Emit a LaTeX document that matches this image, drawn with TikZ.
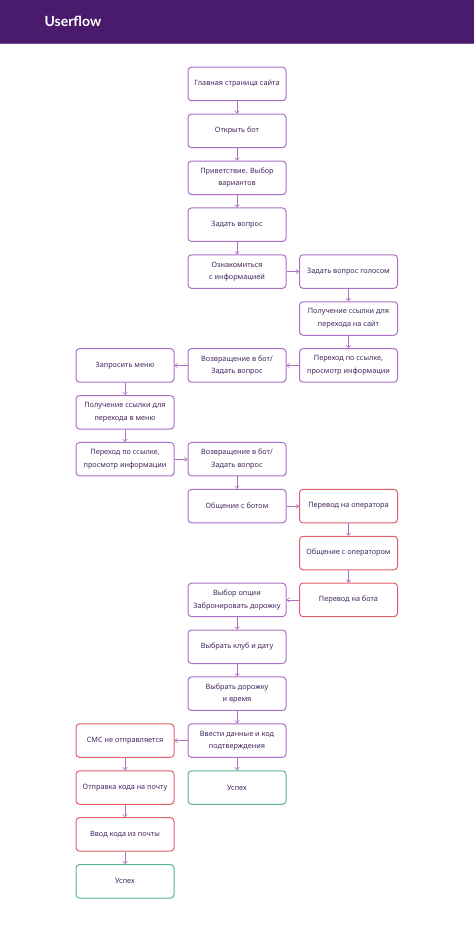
\documentclass[tikz,border=0pt]{standalone}
\usepackage{fontspec}
\setmainfont{Noto Sans}
\newfontfamily\titlefont{Lato}
\usetikzlibrary{arrows.meta,backgrounds}
\definecolor{hdr}{HTML}{4A1B6C}
\definecolor{hdrline}{HTML}{7A4A9A}
\definecolor{pborder}{HTML}{AC6FC6}
\definecolor{rborder}{HTML}{E05F6C}
\definecolor{gborder}{HTML}{5DB68C}
\definecolor{txt}{HTML}{43265F}
\definecolor{arr}{HTML}{AC6FC6}
\tikzset{
  box/.style={draw=pborder, line width=1pt, fill=white, rounded corners=3.5pt,
    minimum width=98pt, minimum height=33.5pt, align=center, text=txt,
    font=\fontsize{7.3}{12.5}\selectfont, inner sep=1pt},
  redbox/.style={box, draw=rborder},
  greenbox/.style={box, draw=gborder},
  flow/.style={draw=arr, line width=0.65pt, -{Straight Barb[length=2.5pt,width=4.5pt,line width=0.6pt]}},
  shade/.style={fill=black, fill opacity=0.025, draw=none}
}
\begin{document}
\begin{tikzpicture}[x=1pt,y=-1pt]
\useasboundingbox (0,0) rectangle (474,933);
\fill[white] (0,0) rectangle (474,933);
\fill[hdr] (0,0) rectangle (474,44);
\draw[hdrline, line width=0.8pt] (0,43.6) -- (474,43.6);
\node[anchor=west, text=white, font=\titlefont\bfseries\fontsize{14}{16}\selectfont] (title) at (41,21) {Userflow};
% columns
\def\xl{125}\def\xm{237}\def\xr{348.5}
% rows: 84 + 46.9*(k-1)
\node[box] (m1) at (\xm,84) {Главная страница сайта};
\node[box] (m2) at (\xm,130.9) {Открыть бот};
\node[box] (m3) at (\xm,177.8) {Приветствие. Выбор\\вариантов};
\node[box] (m4) at (\xm,224.7) {Задать вопрос};
\node[box] (m5) at (\xm,271.6) {Ознакомиться\\с информацией};
\node[box] (r5) at (\xr,271.6) {Задать вопрос голосом};
\node[box] (r6) at (\xr,318.5) {Получение ссылки для\\перехода на сайт};
\node[box] (r7) at (\xr,365.4) {Переход по ссылке,\\просмотр информации};
\node[box] (m7) at (\xm,365.4) {Возвращение в бот/\\Задать вопрос};
\node[box] (l7) at (\xl,365.4) {Запросить меню};
\node[box] (l8) at (\xl,412.3) {Получение ссылки для\\перехода в меню};
\node[box] (l9) at (\xl,459.2) {Переход по ссылке,\\просмотр информации};
\node[box] (m9) at (\xm,459.2) {Возвращение в бот/\\Задать вопрос};
\node[box] (m10) at (\xm,506.1) {Общение с ботом};
\node[redbox] (r10) at (\xr,506.1) {Перевод на оператора};
\node[redbox] (r11) at (\xr,553) {Общение с оператором};
\node[redbox] (r12) at (\xr,599.9) {Перевод на бота};
\node[box] (m12) at (\xm,599.9) {Выбор опции\\Забронировать дорожку};
\node[box] (m13) at (\xm,646.8) {Выбрать клуб и дату};
\node[box] (m14) at (\xm,693.7) {Выбрать дорожку\\и время};
\node[box] (m15) at (\xm,740.6) {Ввести данные и код\\подтверждения};
\node[greenbox] (m16) at (\xm,787.5) {Успех};
\node[redbox] (l15) at (\xl,740.6) {СМС не отправляется};
\node[redbox] (l16) at (\xl,787.5) {Отправка кода на почту};
\node[redbox] (l17) at (\xl,834.4) {Ввод кода из почты};
\node[greenbox] (l18) at (\xl,881.3) {Успех};
% soft shadows
\begin{scope}[on background layer]
\foreach \n in {m1,m2,m3,m4,m5,r5,r6,r7,m7,l7,l8,l9,m9,m10,r10,r11,r12,m12,m13,m14,m15,m16,l15,l16,l17,l18}{
  \foreach \s in {1,2,...,6}{
    \fill[shade, rounded corners=4pt+\s*0.8pt] ([xshift=-\s*0.9pt+1pt, yshift=-1pt]\n.north west) rectangle ([xshift=\s*0.9pt-1pt, yshift=-4pt-\s*0.9pt]\n.south east);
  }
}
\end{scope}
% connectors
\draw[flow] (m1) -- (m2);
\draw[flow] (m2) -- (m3);
\draw[flow] (m3) -- (m4);
\draw[flow] (m4) -- (m5);
\draw[flow] (m5) -- (r5);
\draw[flow] (r5) -- (r6);
\draw[flow] (r6) -- (r7);
\draw[flow] (r7) -- (m7);
\draw[flow] (m7) -- (l7);
\draw[flow] (l7) -- (l8);
\draw[flow] (l8) -- (l9);
\draw[flow] (l9) -- (m9);
\draw[flow] (m9) -- (m10);
\draw[flow] (m10) -- (r10);
\draw[flow] (r10) -- (r11);
\draw[flow] (r11) -- (r12);
\draw[flow] (r12) -- (m12);
\draw[flow] (m12) -- (m13);
\draw[flow] (m13) -- (m14);
\draw[flow] (m14) -- (m15);
\draw[flow] (m15) -- (l15);
\draw[flow] (m15) -- (m16);
\draw[flow] (l15) -- (l16);
\draw[flow] (l16) -- (l17);
\draw[flow] (l17) -- (l18);
\end{tikzpicture}
\end{document}
